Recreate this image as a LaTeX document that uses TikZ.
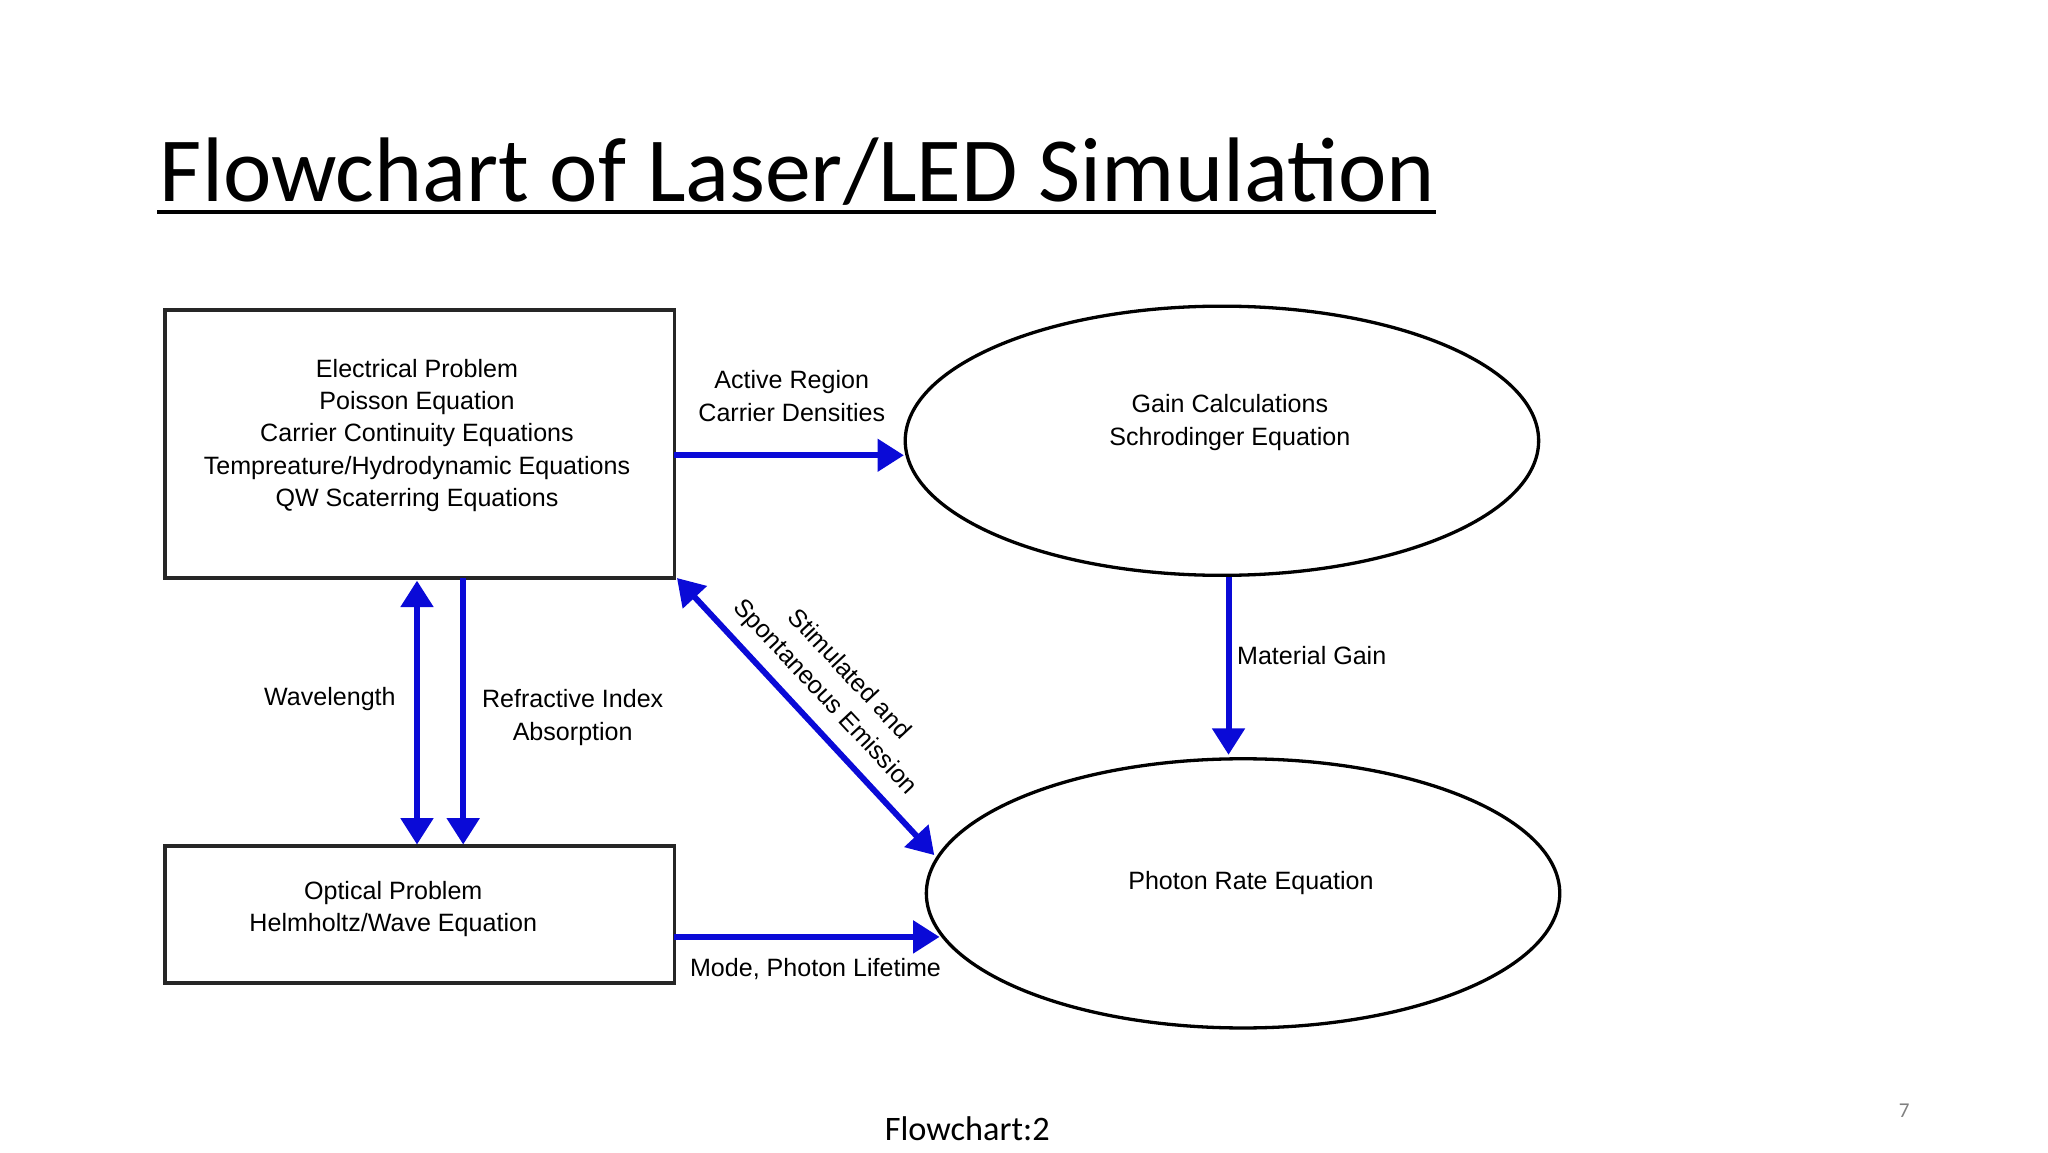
\documentclass[tikz,border=0pt]{standalone}
\usepackage{fontspec}
\setmainfont{Liberation Sans}
\newfontfamily\calib{Carlito}
\usetikzlibrary{shapes.geometric,arrows.meta}
\definecolor{arrowblue}{RGB}{10, 10, 215}
\tikzset{
  box/.style={draw=black!85, line width=2.5pt, align=center, font=\fontsize{19}{24.5}\selectfont},
  oval/.style={ellipse, draw=black, line width=2.5pt, align=center, font=\fontsize{19}{24.5}\selectfont},
  lbl/.style={align=center, font=\fontsize{19}{25}\selectfont},
  flow/.style={draw=arrowblue, line width=4.5pt, -{Triangle[length=20pt,width=24pt]}},
  both/.style={flow, {Triangle[length=20pt,width=24pt]}-{Triangle[length=20pt,width=24pt]}}
}
\begin{document}
\begin{tikzpicture}[x=1pt,y=-1pt]
  \useasboundingbox (0,0) rectangle (1552,873);
  % title
  \node[anchor=base west, inner sep=0pt, font=\calib\fontsize{69.5}{72}\selectfont] (title) at (121,153) {Flowchart of Laser/LED Simulation};
  \draw[line width=3pt] (title.base west)++(-2,8) coordinate (ul) -- ([yshift=-8pt]title.base east);
  % blocks
  \draw[box] (125,235) rectangle (511,438);
  \node[box, draw=none] (elec) at (316,330) {Electrical Problem\\Poisson Equation\\Carrier Continuity Equations\\Tempreature/Hydrodynamic Equations\\QW Scaterring Equations};
  \draw[box] (125,641) rectangle (511,745);
  \node[box, draw=none] (opt) at (298,689) {Optical Problem\\Helmholtz/Wave Equation};
  \node[oval, minimum width=480pt, minimum height=204pt] (gain) at (926,334) {};
  \node[lbl] (gaintxt) at (932,320) {Gain Calculations\\Schrodinger Equation};
  \node[oval, minimum width=480pt, minimum height=204pt] (photon) at (942,677) {};
  \node[lbl] (photontxt) at (948,669) {Photon Rate Equation};
  % connector ends
  \coordinate (e1) at (511,345);  \coordinate (g1) at (685,345);
  \coordinate (g2) at (931,437);  \coordinate (p1) at (931,572);
  \coordinate (e2) at (316,440);  \coordinate (o1) at (316,640);
  \coordinate (e3) at (351,438);  \coordinate (o2) at (351,640);
  \coordinate (e4) at (513,438);  \coordinate (p2) at (708,648);
  \coordinate (o3) at (511,710);  \coordinate (p3) at (712,710);
  % connectors
  \draw[flow] (e1) -- (g1);
  \draw[flow] (g2) -- (p1);
  \draw[both] (e2) -- (o1);
  \draw[flow] (e3) -- (o2);
  \draw[both] (e4) -- (p2);
  \draw[flow] (o3) -- (p3);
  % labels
  \node[lbl] (l1) at (600,300) {Active Region\\Carrier Densities};
  \node[lbl, anchor=west] (l2) at (934,497) {Material Gain};
  \node[lbl] (l3) at (250,530) {Wavelength};
  \node[lbl] (l4) at (434,544) {Refractive Index\\Absorption};
  \node[lbl, rotate=-47, inner sep=1pt] (l5) at (634,520) {Stimulated and\\Spontaneous Emission};
  \node[lbl] (l6) at (618,734) {Mode, Photon Lifetime};
  % footer
  \node[font=\calib\fontsize{16}{18}\selectfont, text=black!50] (pg) at (1443,842) {7};
  \node[font=\calib\fontsize{26}{28}\selectfont, inner sep=1pt] (cap) at (733,855) {Flowchart:2};
\end{tikzpicture}
\end{document}
